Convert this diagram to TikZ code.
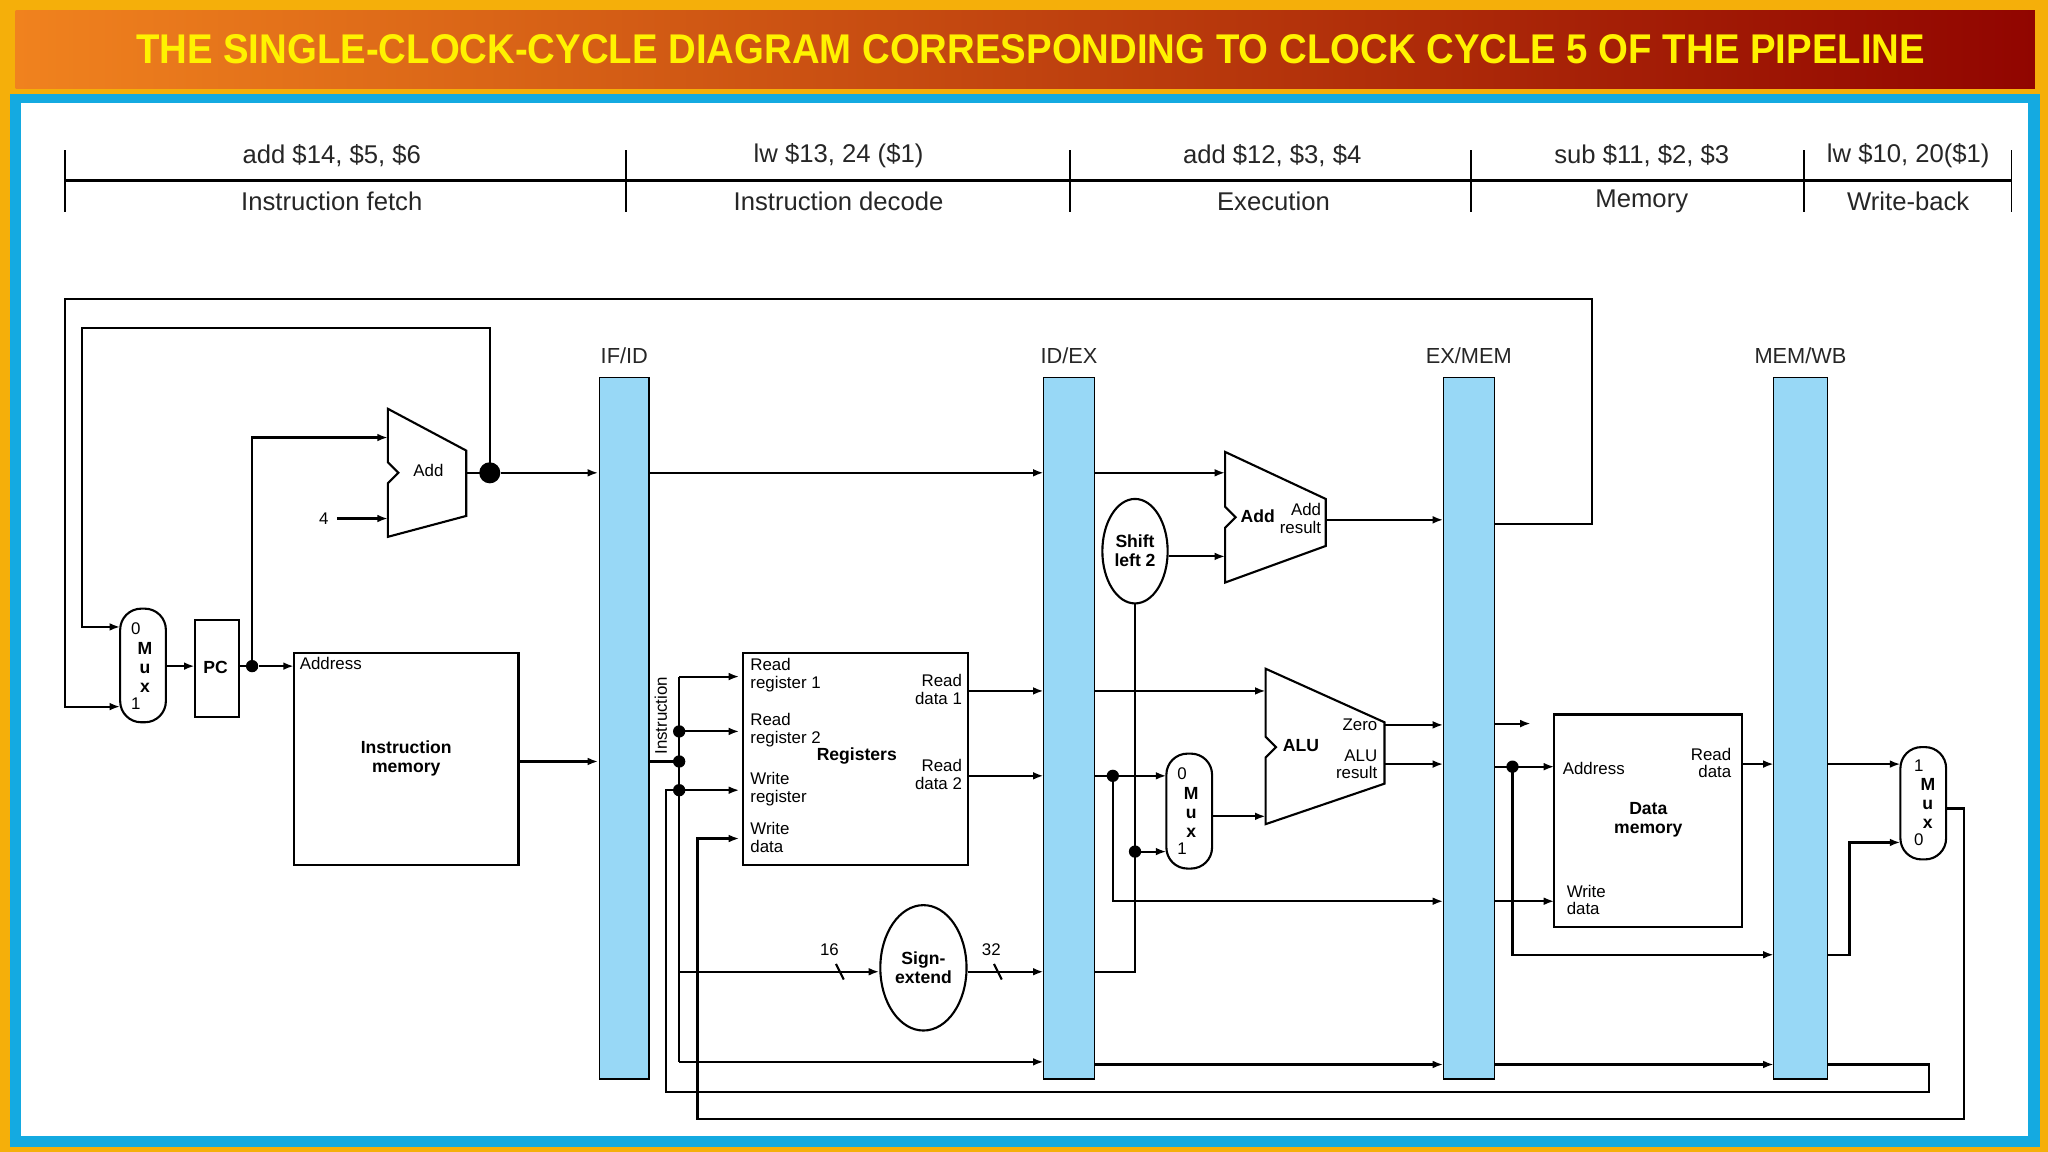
\documentclass[tikz,border=0pt]{standalone}
\usepackage{fontspec}
\setmainfont{Liberation Sans}
\usetikzlibrary{arrows.meta,shapes.geometric,calc}
\definecolor{bar}{RGB}{152,216,246}
\definecolor{ttl}{RGB}{240,130,30}
\definecolor{ttr}{RGB}{145,5,0}
\definecolor{frame}{RGB}{245,175,10}
\definecolor{cyanb}{RGB}{20,170,225}
\begin{document}
\begin{tikzpicture}[x=0.013061cm,y=-0.013061cm,
  w/.style={line width=0.6pt},
  ar/.style={w,-{Latex[length=3pt,width=2.2pt]}},
  lbl/.style={font=\fontsize{4.8}{5}\selectfont,inner sep=0pt,align=left},
  blbl/.style={font=\fontsize{5}{5.4}\selectfont\bfseries,inner sep=0pt,align=center},
  stage/.style={font=\fontsize{7.3}{8}\selectfont,inner sep=0pt,text=black!85},
  box/.style={draw,w},
  mux/.style={draw,w,rounded corners=6pt},
  ell/.style={draw,w,ellipse,inner sep=0pt,fill=white},
  dot/.style={circle,fill,inner sep=0pt,minimum size=3.5pt},
  barx/.style={fill=bar,draw=black,line width=0.4pt}]
\useasboundingbox (0,0) rectangle (1568,882);
% background frame
\fill[frame] (0,0) rectangle (1568,882);
\fill[cyanb] (8,72) rectangle (1562,878);
\fill[white] (16,79) rectangle (1553,870);
\shade[left color=ttl,right color=ttr] (12,8) rectangle (1558,68);
\node[text=yellow,inner sep=0pt] (title) at (789,38) {\resizebox{17.89cm}{0.29cm}{\bfseries THE SINGLE-CLOCK-CYCLE DIAGRAM CORRESPONDING TO CLOCK CYCLE 5 OF THE PIPELINE}};
% stage table
\draw[line width=0.9pt] (50,138) -- (1540,138);
\foreach \x in {50,479,819,1126,1381,1540} \draw[line width=0.5pt] (\x,115) -- (\x,162);
\node[stage] (s1) at (254,119) {add \$14, \$5, \$6};
\node[stage] (s2) at (642,119) {lw \$13, 24 (\$1)};
\node[stage] (s3) at (974,119) {add \$12, \$3, \$4};
\node[stage] (s4) at (1257,119) {sub \$11, \$2, \$3};
\node[stage] (s5) at (1461,119) {lw \$10, 20(\$1)};
\node[stage] (t1) at (254,154) {Instruction fetch};
\node[stage] (t2) at (642,154) {Instruction decode};
\node[stage] (t3) at (975,154) {Execution};
\node[stage] (t4) at (1257,154) {Memory};
\node[stage] (t5) at (1461,154) {Write-back};
% pipeline registers
\foreach \n/\xa/\xb/\t in {ifid/459/497/IF\slash ID,idex/799/838/ID\slash EX,exmem/1105/1144/EX\slash MEM,memwb/1358/1399/MEM\slash WB}{
  \draw[barx] (\xa,289) rectangle (\xb,826);
  \node[stage,font=\fontsize{6.2}{7}\selectfont] (\n) at ({(\xa+\xb)/2},272) {\t};
}
% IF stage
\draw[mux] (92,466) rectangle (127,553);
\node[lbl] (m1a) at (104,481) {0};
\node[blbl,align=center] (m1) at (111,511) {M\\u\\x};
\node[lbl] (m1b) at (104,539) {1};
\draw[box] (149,475) rectangle (183,549);
\node[blbl] (pc) at (165,511) {PC};
\draw[box] (225,500) rectangle (397,662);
\node[lbl,anchor=north west] (addr) at (229,503) {Address};
\node[blbl] (imem) at (311,581) {Instruction\\memory};
\draw[box] (297,313) -- (357,345) -- (357,395) -- (297,411) -- (297,370) -- (305,362) -- (297,354) -- cycle;
\node[lbl] (add1) at (328,360) {Add};
\node[lbl] (four) at (248,397) {4};
\draw[ar] (258,397) -- (297,397);
\draw[ar] (127,510) -- (149,510);
\draw[w] (183,510) -- (193,510);
\node[dot] (pcd) at (193,510) {};
\draw[ar] (pcd) -- (225,510);
\draw[ar] (pcd.center) -- (193,335) -- (297,335);
\draw[w] (357,362) -- (375,362);
\node[dot,minimum size=6pt] (pc4) at (375,362) {};
\draw[ar] (pc4) -- (458,362);
\draw[ar] (pc4.center) -- (375,251) -- (63,251) -- (63,480) -- (92,480);
\draw[ar] (1144,401) -- (1219,401) -- (1219,229) -- (50,229) -- (50,541) -- (92,541);
\draw[ar] (397,583) -- (458,583);
% ID stage
\draw[ar] (497,362) -- (799,362);
\node[lbl,rotate=90] (instr) at (506,548) {Instruction};
\draw[w] (497,583) -- (520,583);
\node[dot] (d1) at (520,583) {};
\node[dot] (d2) at (520,560) {};
\node[dot] (d3) at (520,605) {};
\draw[w] (520,518) -- (520,813);
\draw[ar] (520,518) -- (566,518);
\draw[ar] (d2.center) -- (566,560);
\draw[box] (569,500) rectangle (741,662);
\node[lbl,anchor=west] (rr1) at (574,517) {Read\\register 1};
\node[lbl,anchor=west] (rr2) at (574,559) {Read\\register 2};
\node[lbl,anchor=west] (wr) at (574,604) {Write\\register};
\node[lbl,anchor=west] (wd) at (574,641) {Write\\data};
\node[blbl] (regs) at (656,579) {Registers};
\node[lbl,anchor=east,align=right] (rd1) at (737,528) {Read\\data 1};
\node[lbl,anchor=east,align=right] (rd2) at (737,593) {Read\\data 2};
\draw[ar] (741,529) -- (799,529);
\draw[ar] (741,594) -- (799,594);
\draw[ar] (1399,815) -- (1477,815) -- (1477,836) -- (510,836) -- (510,605) -- (566,605);
\draw[ar] (1490,619) -- (1504,619) -- (1504,857) -- (534,857) -- (534,642) -- (566,642);
\node[ell,minimum width=0.862cm,minimum height=1.254cm,font=\fontsize{5}{5.4}\selectfont\bfseries,align=center] (sx) at (707,741) {Sign-\\extend};
\draw[ar] (520,744) -- (sx.west |- 0,744);
\node[lbl] (n16) at (635,727) {16};
\draw[w] (640,738) -- (646,750);
\draw[ar] (sx.east |- 0,744) -- (799,744);
\node[lbl] (n32) at (759,727) {32};
\draw[w] (761,738) -- (767,750);
\draw[ar] (520,813) -- (799,813);
% EX stage
\draw[ar] (838,815) -- (1105,815);
\draw[ar] (1144,815) -- (1358,815);
\draw[ar] (838,362) -- (938,362);
\draw[box] (938,346) -- (1015,382) -- (1015,418) -- (938,446) -- (938,404) -- (946,396) -- (938,388) -- cycle;
\node[blbl] (add2) at (963,395) {Add};
\node[lbl,anchor=east,align=right] (addr2) at (1012,397) {Add\\result};
\draw[ar] (1015,398) -- (1105,398);
\node[ell,minimum width=0.653cm,minimum height=1.045cm,font=\fontsize{5}{5.4}\selectfont\bfseries,align=center] (sl2) at (869,422) {Shift\\left 2};
\draw[ar] (sl2.east |- 0,426) -- (938,426);
\draw[w] (838,744) -- (869,744) -- (sl2.south);
\draw[ar] (838,529) -- (969,529);
\draw[box] (969,512) -- (1060,553) -- (1060,600) -- (969,631) -- (969,580) -- (977,572) -- (969,564) -- cycle;
\node[blbl] (alu) at (996,571) {ALU};
\node[lbl,anchor=east] (zero) at (1055,555) {Zero};
\node[lbl,anchor=east,align=right] (alur) at (1055,585) {ALU\\result};
\draw[ar] (1060,555) -- (1105,555);
\draw[ar] (1060,585) -- (1105,585);
\node[dot] (d4) at (852,594) {};
\draw[ar] (838,594) -- (893,594);
\draw[ar] (d4.center) -- (852,690) -- (1105,690);
\draw[mux] (893,577) rectangle (928,665);
\node[lbl] (m2a) at (905,592) {0};
\node[blbl] (m2) at (912,622) {M\\u\\x};
\node[lbl] (m2b) at (905,650) {1};
\node[dot] (d5) at (869,652) {};
\draw[ar] (d5.center) -- (893,652);
\draw[ar] (928,625) -- (969,625);
% MEM stage
\draw[ar] (1144,554) -- (1172,554);
\node[dot] (d6) at (1158,587) {};
\draw[ar] (1144,587) -- (1190,587);
\draw[ar] (d6.center) -- (1158,731) -- (1358,731);
\draw[ar] (1144,690) -- (1190,690);
\draw[box] (1190,547) rectangle (1334,710);
\node[lbl,anchor=west] (daddr) at (1196,588) {Address};
\node[lbl,anchor=east,align=right] (drd) at (1326,584) {Read\\data};
\node[blbl] (dmem) at (1262,628) {Data\\memory};
\node[lbl,anchor=west] (dwd) at (1199,689) {Write\\data};
\draw[ar] (1334,585) -- (1358,585);
% WB stage
\draw[ar] (1399,585) -- (1455,585);
\draw[ar] (1399,731) -- (1416,731) -- (1416,645) -- (1455,645);
\draw[mux] (1455,572) rectangle (1490,658);
\node[lbl] (m3a) at (1469,586) {1};
\node[blbl] (m3) at (1476,615) {M\\u\\x};
\node[lbl] (m3b) at (1469,643) {0};
\end{tikzpicture}
\end{document}
